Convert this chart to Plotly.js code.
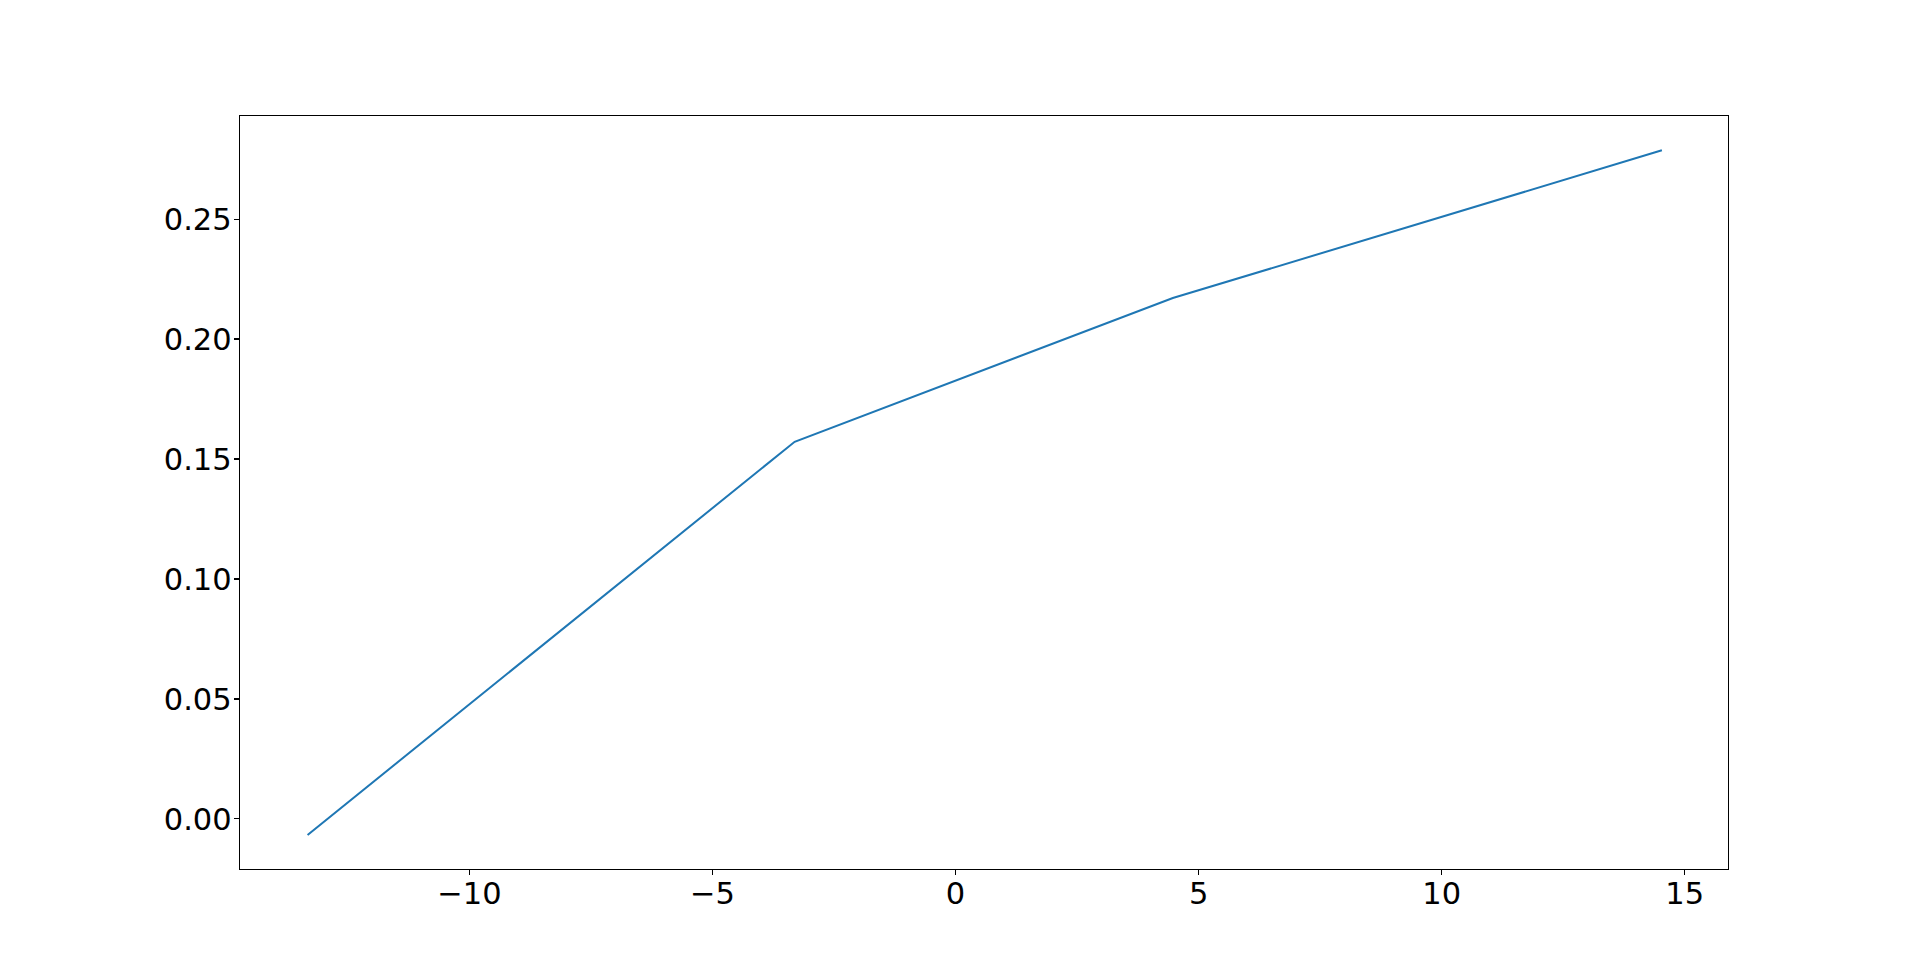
<!DOCTYPE html>
<html>
<head>
<meta charset="utf-8">
<script src="https://cdn.plot.ly/plotly-3.0.1.min.js"></script>
<style>html,body{margin:0;padding:0;background:#fff;}#chart{width:1920px;height:977px;}</style>
</head>
<body>
<div id="chart"></div>
<script>
const xValues = [-13.33, -3.31, 4.47, 14.53];
const yValues = [-0.0067, 0.1572, 0.2171, 0.2787];
const xTicks = [-10, -5, 0, 5, 10, 15];
const yTicks = [0.00, 0.05, 0.10, 0.15, 0.20, 0.25];

const trace = {
  x: xValues,
  y: yValues,
  type: 'scatter',
  mode: 'lines',
  line: {color: '#1f77b4', width: 2},
  hoverinfo: 'skip'
};

const axisCommon = {
  showgrid: false,
  zeroline: false,
  showline: true,
  linecolor: '#000',
  linewidth: 1.2,
  mirror: true,
  ticks: 'outside',
  ticklen: 5,
  tickwidth: 1.2,
  tickcolor: '#000',
  tickfont: {family: 'DejaVu Sans', size: 30.5, color: '#000'}
};

const layout = {
  width: 1920,
  height: 977,
  paper_bgcolor: '#fff',
  plot_bgcolor: '#fff',
  showlegend: false,
  margin: {l: 240, r: 192, t: 116, b: 108},
  xaxis: Object.assign({}, axisCommon, {
    range: [-14.72, 15.89],
    tickvals: xTicks,
    ticktext: xTicks.map(v => v < 0 ? '\u2212' + Math.abs(v) : String(v)),
    ticklabelstandoff: -8
  }),
  yaxis: Object.assign({}, axisCommon, {
    range: [-0.0209, 0.2930],
    tickvals: yTicks,
    ticktext: yTicks.map(v => v.toFixed(2)),
    ticklabelstandoff: -4
  })
};

Plotly.newPlot('chart', [trace], layout, {staticPlot: true, displayModeBar: false});
</script>
</body>
</html>
